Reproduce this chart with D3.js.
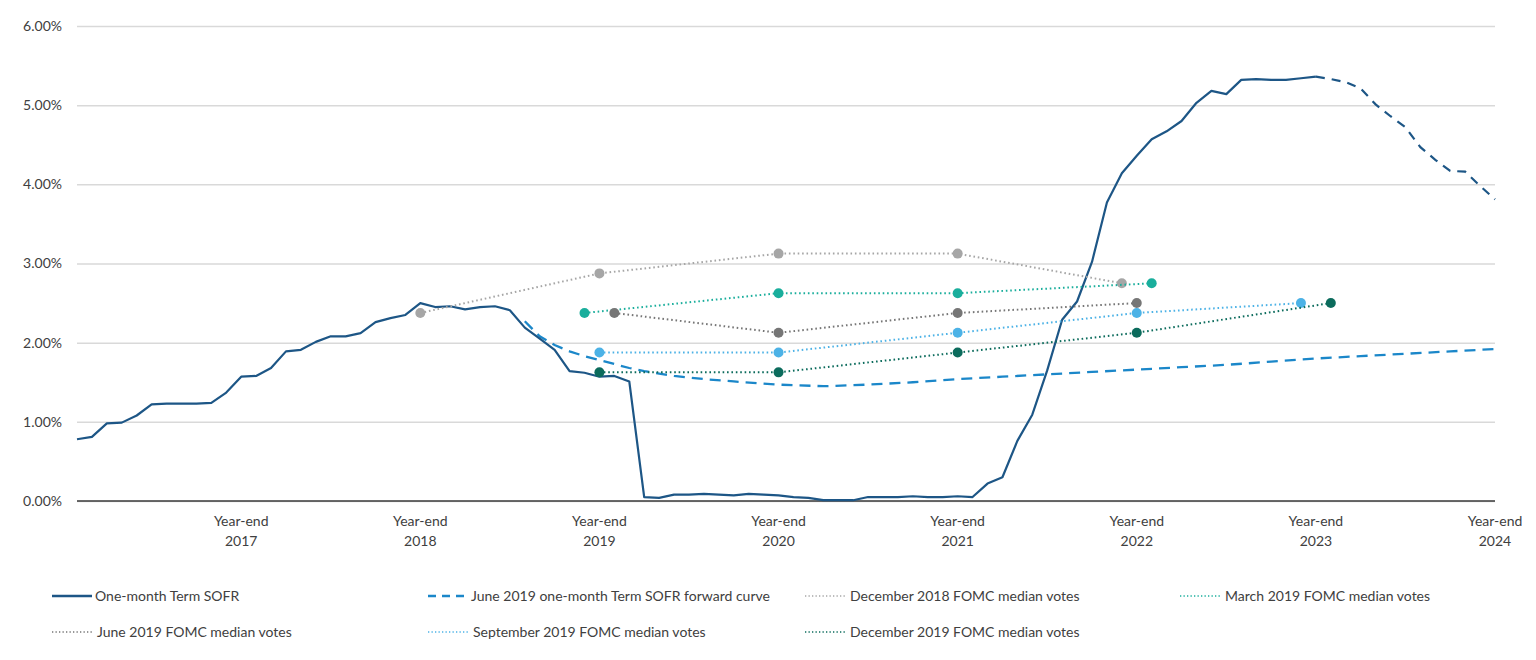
<script src="https://d3js.org/d3.v7.min.js"></script>

<style>
  body { margin: 0; background: #fff; }
  svg text { font-family: Lato, "Open Sans", sans-serif; fill: #404040; }
</style>

<body>
  <div id="vis"></div>
</body>

<script>
  // Month index 0 = first month on the chart, year-end 2017 = 11, year-end 2024 = 95
  const yearEndMonths = [11, 23, 35, 47, 59, 71, 83, 95]
  const yearLabels = ['2017', '2018', '2019', '2020', '2021', '2022', '2023', '2024']
  const yTicks = [0, 1, 2, 3, 4, 5, 6]

  // One-month Term SOFR, monthly from index 0 to 83
  const sofrValues = [
    0.78, 0.81, 0.98, 0.99, 1.08, 1.22, 1.23, 1.23, 1.23, 1.24, 1.37, 1.57,
    1.58, 1.68, 1.89, 1.91, 2.01, 2.08, 2.08, 2.12, 2.26, 2.31, 2.35, 2.50,
    2.45, 2.46, 2.42, 2.45, 2.46, 2.41, 2.19, 2.05, 1.91, 1.64, 1.62, 1.57,
    1.58, 1.51, 0.05, 0.04, 0.08, 0.08, 0.09, 0.08, 0.07, 0.09, 0.08, 0.07,
    0.05, 0.04, 0.01, 0.01, 0.01, 0.05, 0.05, 0.05, 0.06, 0.05, 0.05, 0.06,
    0.05, 0.22, 0.30, 0.76, 1.09, 1.65, 2.29, 2.52, 3.02, 3.77, 4.14, 4.36,
    4.57, 4.67, 4.80, 5.03, 5.18, 5.14, 5.32, 5.33, 5.32, 5.32, 5.34, 5.36
  ]

  // Continuation of the SOFR line (dashed), index 83 to 95
  const sofrFwdStart = 83
  const sofrFwdValues = [5.36, 5.33, 5.29, 5.21, 5.01, 4.86, 4.72, 4.47, 4.31, 4.17, 4.16, 3.98, 3.81]

  // June 2019 one-month Term SOFR forward curve
  const fwdMonths = [30, 31, 32, 33, 34, 35, 36, 37, 38, 39, 40, 42, 44, 47, 50, 53, 56, 59, 62, 65, 68, 71, 74, 77, 80, 83, 86, 89, 92, 95]
  const fwdValues = [2.27, 2.08, 1.97, 1.89, 1.83, 1.78, 1.73, 1.68, 1.64, 1.61, 1.58, 1.54, 1.51, 1.47, 1.45, 1.47, 1.50, 1.54, 1.57, 1.60, 1.63, 1.66, 1.69, 1.72, 1.76, 1.80, 1.83, 1.86, 1.89, 1.92]

  // FOMC median votes
  const dec2018Months = [23, 35, 47, 59, 70]
  const dec2018Votes = [2.375, 2.875, 3.125, 3.125, 2.75]
  const mar2019Months = [34, 47, 59, 72]
  const mar2019Votes = [2.375, 2.625, 2.625, 2.75]
  const jun2019Months = [36, 47, 59, 71]
  const jun2019Votes = [2.375, 2.125, 2.375, 2.5]
  const sep2019Months = [35, 47, 59, 71, 82]
  const sep2019Votes = [1.875, 1.875, 2.125, 2.375, 2.5]
  const dec2019Months = [35, 47, 59, 71, 84]
  const dec2019Votes = [1.625, 1.625, 1.875, 2.125, 2.5]

  const sofrColor = '#1d5686'
  const fwdColor = '#1b87c9'

  const fomcSeries = [
    {name: 'December 2018 FOMC median votes', months: dec2018Months, votes: dec2018Votes, color: '#a6a6a6'},
    {name: 'March 2019 FOMC median votes', months: mar2019Months, votes: mar2019Votes, color: '#1aae9c'},
    {name: 'June 2019 FOMC median votes', months: jun2019Months, votes: jun2019Votes, color: '#767676'},
    {name: 'September 2019 FOMC median votes', months: sep2019Months, votes: sep2019Votes, color: '#4cb2e6'},
    {name: 'December 2019 FOMC median votes', months: dec2019Months, votes: dec2019Votes, color: '#0b6b5c'}
  ]

  const width = 1536
  const height = 660
  const plotLeft = 77, plotRight = 1495, plotTop = 26, plotBottom = 501

  let svg = d3.select('#vis').append('svg')
    .attr('width', width)
    .attr('height', height)

  let x = d3.scaleLinear().domain([0, 95]).range([plotLeft, plotRight])
  let y = d3.scaleLinear().domain([0, 6]).range([plotBottom, plotTop])

  // Gridlines and y labels
  svg.append('g')
    .attr('transform', 'translate(' + plotLeft + ',0)')
    .call(d3.axisLeft(y).tickValues(yTicks).tickSize(-(plotRight - plotLeft)).tickPadding(15)
      .tickFormat(d => d3.format('.2f')(d) + '%'))
    .call(g => g.select('.domain').remove())
    .call(g => g.selectAll('line').attr('stroke', '#d9d9d9').attr('stroke-width', 1.5))
    .call(g => g.selectAll('text').style('font-size', '14px').attr('fill', '#404040'))

  // x axis line and two-line labels
  svg.append('line')
    .attr('x1', plotLeft).attr('x2', plotRight)
    .attr('y1', y(0)).attr('y2', y(0))
    .attr('stroke', '#3a3a3a').attr('stroke-width', 1.5)

  let xLabels = svg.append('g')
    .selectAll('text')
    .data(yearEndMonths)
    .enter()
    .append('text')
    .attr('x', d => x(d))
    .attr('y', 526)
    .attr('text-anchor', 'middle')
    .style('font-size', '14px')
  xLabels.append('tspan').attr('x', d => x(d)).text('Year-end')
  xLabels.append('tspan').attr('x', d => x(d)).attr('dy', 20).text((d, i) => yearLabels[i])

  let line = d3.line().x(d => x(d[0])).y(d => y(d[1]))

  // June 2019 forward curve
  svg.append('path')
    .datum(fwdMonths.map((m, i) => [m, fwdValues[i]]))
    .attr('d', line)
    .attr('fill', 'none')
    .attr('stroke', fwdColor)
    .attr('stroke-width', 2.3)
    .attr('stroke-dasharray', '11 7')

  // SOFR
  svg.append('path')
    .datum(sofrValues.map((v, i) => [i, v]))
    .attr('d', line)
    .attr('fill', 'none')
    .attr('stroke', sofrColor)
    .attr('stroke-width', 2.2)
    .attr('stroke-linejoin', 'round')

  svg.append('path')
    .datum(sofrFwdValues.map((v, i) => [sofrFwdStart + i, v]))
    .attr('d', line)
    .attr('fill', 'none')
    .attr('stroke', sofrColor)
    .attr('stroke-width', 2.2)
    .attr('stroke-dasharray', '9 7')

  // FOMC dotted lines and dots
  fomcSeries.forEach(function (s) {
    let pts = s.months.map((m, i) => [m, s.votes[i]])
    svg.append('path')
      .datum(pts)
      .attr('d', line)
      .attr('fill', 'none')
      .attr('stroke', s.color)
      .attr('stroke-width', 2)
      .attr('stroke-dasharray', '1.6 2.8')
    svg.append('g')
      .selectAll('circle')
      .data(pts)
      .enter()
      .append('circle')
      .attr('cx', d => x(d[0]))
      .attr('cy', d => y(d[1]))
      .attr('r', 5)
      .attr('fill', s.color)
  })

  // Legend
  const legendItems = [
    {name: 'One-month Term SOFR', color: sofrColor, dash: null, width: 2.5, x: 52, y: 596},
    {name: 'June 2019 one-month Term SOFR forward curve', color: fwdColor, dash: '8 6', width: 2.5, x: 428, y: 596},
    {name: fomcSeries[0].name, color: fomcSeries[0].color, dash: '1.3 2.2', width: 1.6, x: 805, y: 596},
    {name: fomcSeries[1].name, color: fomcSeries[1].color, dash: '1.3 2.2', width: 1.6, x: 1180, y: 596},
    {name: fomcSeries[2].name, color: fomcSeries[2].color, dash: '1.3 2.2', width: 1.6, x: 52, y: 632},
    {name: fomcSeries[3].name, color: fomcSeries[3].color, dash: '1.3 2.2', width: 1.6, x: 428, y: 632},
    {name: fomcSeries[4].name, color: fomcSeries[4].color, dash: '1.3 2.2', width: 1.6, x: 805, y: 632}
  ]

  let legend = svg.append('g')
    .selectAll('g')
    .data(legendItems)
    .enter()
    .append('g')
    .attr('transform', d => 'translate(' + d.x + ',' + d.y + ')')

  legend.append('line')
    .attr('x1', 0).attr('x2', 40)
    .attr('stroke', d => d.color)
    .attr('stroke-width', d => d.width)
    .attr('stroke-dasharray', d => d.dash)

  legend.append('text')
    .attr('x', d => d.dash && d.width < 2 ? 45 : 43)
    .attr('y', 5)
    .style('font-size', '14px')
    .attr('fill', '#262626')
    .text(d => d.name)
</script>
